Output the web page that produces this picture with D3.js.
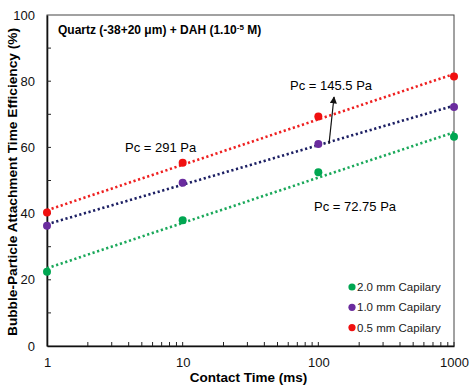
<!DOCTYPE html>
<html>
<head>
<meta charset="utf-8">
<script src="https://cdn.jsdelivr.net/npm/d3@7"></script>
<style>
  body { margin: 0; background: #fff; }
  text { font-family: "Liberation Sans", Arial, sans-serif; }
</style>
</head>
<body>
<div id="chart"></div>
<script>
// contact time (ms)
var times = [1, 10, 100, 1000];
// attachment efficiency (%) per capillary
var cap20 = [22.4, 38.0, 52.5, 63.2];
var cap10 = [36.3, 49.3, 61.0, 72.2];
var cap05 = [40.3, 55.4, 69.3, 81.4];
var seriesNames = ["2.0 mm Capilary", "1.0 mm Capilary", "0.5 mm Capilary"];
var yTicks = [0, 20, 40, 60, 80, 100];
var xTicks = [1, 10, 100, 1000];

var series = [
  {name: seriesNames[0], values: cap20, dot: "#00a651", line: "#1aa85a"},
  {name: seriesNames[1], values: cap10, dot: "#6a2c9e", line: "#1c1f63"},
  {name: seriesNames[2], values: cap05, dot: "#f01010", line: "#ee2020"}
];

var width = 474, height = 386;
var margin = {top: 15, right: 20, bottom: 40, left: 47};

var svg = d3.select("#chart").append("svg")
  .attr("width", width)
  .attr("height", height);

var x = d3.scaleLog().domain([1, 1000]).range([margin.left, width - margin.right]);
var y = d3.scaleLinear().domain([0, 100]).range([height - margin.bottom, margin.top]);

// frame
svg.append("rect")
  .attr("x", x(1)).attr("y", y(100))
  .attr("width", x(1000) - x(1)).attr("height", y(0) - y(100))
  .attr("fill", "none").attr("stroke", "#444").attr("stroke-width", 1);

// y axis
var yAxis = svg.append("g")
  .attr("transform", `translate(${x(1)},0)`)
  .call(d3.axisLeft(y).tickValues(yTicks).tickSize(0).tickPadding(12));
yAxis.select(".domain").attr("stroke", "#111").attr("stroke-width", 1.6);
yAxis.selectAll("text").attr("font-size", 13).attr("fill", "#111")
  .style("font-family", "Liberation Sans, Arial, sans-serif");
// inward minor ticks
svg.append("g").selectAll("line")
  .data(d3.range(10, 100, 10))
  .join("line")
  .attr("x1", x(1)).attr("x2", x(1) + 4)
  .attr("y1", d => y(d)).attr("y2", d => y(d))
  .attr("stroke", "#222").attr("stroke-width", 1);

// x axis
var xAxis = svg.append("g")
  .attr("transform", `translate(0,${y(0)})`)
  .call(d3.axisBottom(x).tickValues(xTicks).tickFormat(d3.format("d")).tickSize(0).tickPadding(12));
xAxis.select(".domain").attr("stroke", "#111").attr("stroke-width", 1.6);
xAxis.selectAll("text").attr("font-size", 13).attr("fill", "#111")
  .style("font-family", "Liberation Sans, Arial, sans-serif");
var minor = [];
[1, 10, 100].forEach(b => { for (var k = 2; k <= 10; k++) minor.push(b * k); });
svg.append("g").selectAll("line")
  .data(minor)
  .join("line")
  .attr("x1", d => x(d)).attr("x2", d => x(d))
  .attr("y1", y(0)).attr("y2", y(0) - 4)
  .attr("stroke", "#222").attr("stroke-width", 1);

// axis titles
svg.append("text")
  .attr("x", 248.5).attr("y", 382)
  .attr("text-anchor", "middle")
  .attr("font-size", 13.5).attr("font-weight", "bold")
  .text("Contact Time (ms)");
svg.append("text")
  .attr("transform", `translate(17,182) rotate(-90)`)
  .attr("text-anchor", "middle")
  .attr("font-size", 12.5).attr("font-weight", "bold")
  .attr("textLength", 308).attr("lengthAdjust", "spacingAndGlyphs")
  .text("Bubble-Particle Attachment Time Efficiency (%)");

// log-linear trend lines fitted to each series
function fit(vals) {
  var xs = times.map(t => Math.log10(t));
  var mx = d3.mean(xs), my = d3.mean(vals);
  var b = d3.sum(xs, (v, i) => (v - mx) * (vals[i] - my)) / d3.sum(xs, v => (v - mx) * (v - mx));
  return {a: my - b * mx, b: b};
}

series.forEach(s => {
  var f = fit(s.values);
  svg.append("line")
    .attr("x1", x(1)).attr("y1", y(f.a))
    .attr("x2", x(1000)).attr("y2", y(f.a + 3 * f.b))
    .attr("stroke", s.line).attr("stroke-width", 2.6)
    .attr("stroke-dasharray", "2.2,2.6");
});

series.forEach(s => {
  svg.append("g").selectAll("circle")
    .data(s.values)
    .join("circle")
    .attr("cx", (d, i) => x(times[i]))
    .attr("cy", d => y(d))
    .attr("r", 4)
    .attr("fill", s.dot);
});

// title
var title = svg.append("text")
  .attr("x", 58).attr("y", 34)
  .attr("font-size", 12).attr("font-weight", "bold");
title.append("tspan").text("Quartz (-38+20 \u03bcm) + DAH (1.10");
title.append("tspan").attr("dy", -4).attr("font-size", 8).text("-5");
title.append("tspan").attr("dy", 4).text(" M)");

// annotations
svg.append("text").attr("x", 125).attr("y", 152).attr("font-size", 13).text("Pc = 291 Pa");
svg.append("text").attr("x", 290).attr("y", 90).attr("font-size", 13).text("Pc = 145.5 Pa");
svg.append("text").attr("x", 314).attr("y", 211).attr("font-size", 13).text("Pc = 72.75 Pa");

svg.append("defs").append("marker")
  .attr("id", "arr").attr("viewBox", "0 0 10 10")
  .attr("refX", 9).attr("refY", 5)
  .attr("markerWidth", 6).attr("markerHeight", 6)
  .attr("orient", "auto")
  .append("path").attr("d", "M0,0L10,5L0,10z").attr("fill", "#111");
svg.append("line")
  .attr("x1", 329).attr("y1", 144).attr("x2", 334).attr("y2", 97)
  .attr("stroke", "#111").attr("stroke-width", 1.2)
  .attr("marker-end", "url(#arr)");

// legend
var legend = svg.append("g").selectAll("g")
  .data(series)
  .join("g")
  .attr("transform", (d, i) => `translate(352,${287 + i * 20.3})`);
legend.append("circle").attr("r", 3.6).attr("fill", d => d.dot);
legend.append("text")
  .attr("x", 5).attr("dy", "0.35em")
  .attr("font-size", 11.5).attr("fill", "#222")
  .text(d => d.name);
</script>
</body>
</html>
